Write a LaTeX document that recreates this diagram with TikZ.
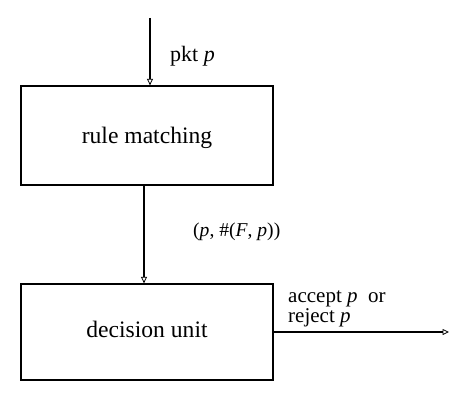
\documentclass[tikz,border=0pt]{standalone}
\usepackage{fontspec}
\setmainfont{Liberation Serif}
\usetikzlibrary{arrows.meta}
\begin{document}
\begin{tikzpicture}[x=1pt,y=-1pt,
  blockbox/.style={draw,line width=1.3pt,minimum width=252pt,minimum height=99pt,inner sep=0pt},
  flow/.style={line width=1.2pt,-{Triangle[open,length=6.5pt,width=6pt,line width=0.8pt]}},
  lbl/.style={inner sep=0pt,anchor=base west}]
\useasboundingbox (0,0) rectangle (454,401);
\node[blockbox] (rm) at (147,135.5) {};
\node[inner sep=0pt,anchor=base] (rmt) at (147,143) {\fontsize{23.6}{28}\selectfont rule matching};
\node[blockbox,minimum height=96pt] (du) at (147,332) {};
\node[inner sep=0pt,anchor=base] (dut) at (147,337) {\fontsize{23.6}{28}\selectfont decision unit};
\coordinate (in) at (150,18);
\coordinate (out) at (449,332);
\draw[flow] (in) -- (in |- rm.north);
\draw[flow] ([xshift=-3pt]rm.south) -- ([xshift=-3pt]du.north);
\draw[flow] (du.east |- out) -- (out);
\node[lbl] (l1) at (170,62) {\fontsize{22}{26}\selectfont pkt \textit{p}};
\node[lbl] (l2) at (193,236) {\fontsize{19.6}{24}\selectfont (\textit{p}, \#(\textit{F}, \textit{p}))};
\node[lbl] (l3) at (288,302) {\fontsize{21}{24}\selectfont accept \textit{p}\ \ or};
\node[lbl] (l4) at (288,322) {\fontsize{21}{24}\selectfont reject \textit{p}};
\end{tikzpicture}
\end{document}
